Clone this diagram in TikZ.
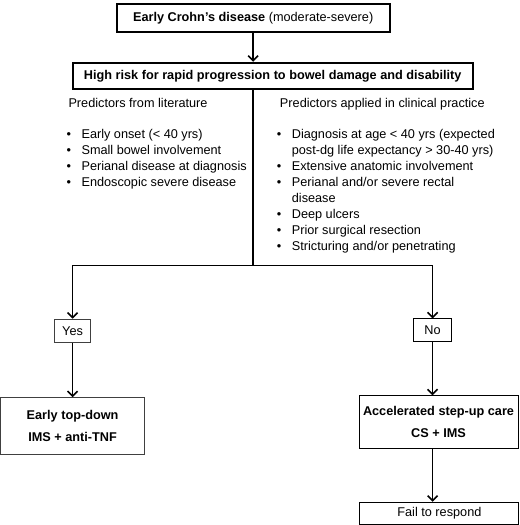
\documentclass[tikz,border=0pt]{standalone}
\usepackage{fontspec, array, tkz-euclide}
\setmainfont{Liberation Sans}
\usetikzlibrary{arrows.meta}

\newcommand{\diagfont}{\fontsize{12.7bp}{16bp}\selectfont}

\tikzset{
  bigbox/.style={draw, line width=2.2pt, inner sep=0pt, font=\diagfont\bfseries},
  smallbox/.style={draw, line width=1pt, inner sep=0pt, align=center},
  flowline/.style={line width=1.6pt},
  flowarrow/.style={line width=1.6pt, -{Straight Barb[length=5bp,width=10bp]}},
  plaintext/.style={inner sep=0pt}
}

\begin{document}
\begin{tikzpicture}[font=\diagfont]
    \useasboundingbox (0,0) rectangle (18.34,-18.52);
    \tkzDefPoints{8.93/-9.37/S}
    \node[bigbox, minimum width=9.63cm, minimum height=0.99cm] (crohn) at (8.93,-0.64) {Early Crohn's disease \mdseries(moderate-severe)};
    \node[bigbox, minimum width=14.11cm, minimum height=0.92cm] (risk) at (9.62,-2.68) {High risk for rapid progression to bowel damage and disability};
    \node[plaintext, anchor=base west] (lithead) at (2.41,-3.79) {Predictors from literature};
    \node[plaintext, anchor=base west] (clinhead) at (9.87,-3.79) {Predictors applied in clinical practice};
    \node[plaintext, anchor=north west] (litlist) at (2.34,-4.47) {\begin{tabular}{@{}p{15bp}@{}l@{}}
        \textbullet & Early onset (< 40 yrs)\\
        \textbullet & Small bowel involvement\\
        \textbullet & Perianal disease at diagnosis\\
        \textbullet & Endoscopic severe disease
    \end{tabular}};
    \node[plaintext, anchor=north west] (clinlist) at (9.76,-4.47) {\begin{tabular}{@{}p{15bp}@{}l@{}}
        \textbullet & Diagnosis at age < 40 yrs (expected\\
         & post-dg life expectancy > 30-40 yrs)\\
        \textbullet & Extensive anatomic involvement\\
        \textbullet & Perianal and/or severe rectal\\
         & disease\\
        \textbullet & Deep ulcers\\
        \textbullet & Prior surgical resection\\
        \textbullet & Stricturing and/or penetrating
    \end{tabular}};
    \node[smallbox, draw=black!75, minimum width=1.26cm, minimum height=0.82cm] (yes) at (2.56,-11.67) {Yes};
    \node[smallbox, minimum width=1.32cm, minimum height=0.80cm] (no) at (15.26,-11.65) {No};
    \node[smallbox, draw=black!75, minimum width=5.09cm, minimum height=2.0cm, font=\diagfont\bfseries] (topdown) at (2.56,-15.03) {Early top-down\\[5.7bp]IMS + anti-TNF};
    \node[smallbox, minimum width=5.61cm, minimum height=1.85cm, font=\diagfont\bfseries] (stepup) at (15.47,-14.89) {Accelerated step-up care\\[6bp]CS + IMS};
    \node[smallbox, minimum width=5.61cm, minimum height=0.78cm] (fail) at (15.50,-18.11) {Fail to respond};
    \draw[flowarrow] (crohn) -- (crohn |- risk.north);
    \draw[flowline] (risk.south -| S) -- (S);
    \draw[flowarrow] (S) -| (yes);
    \draw[flowarrow] (S) -| (no);
    \draw[flowarrow] (yes) -- (topdown);
    \draw[flowarrow] (no) -- (no |- stepup.north);
    \draw[flowarrow] (stepup.south -| no) -- (no |- fail.north);
\end{tikzpicture}
\end{document}
